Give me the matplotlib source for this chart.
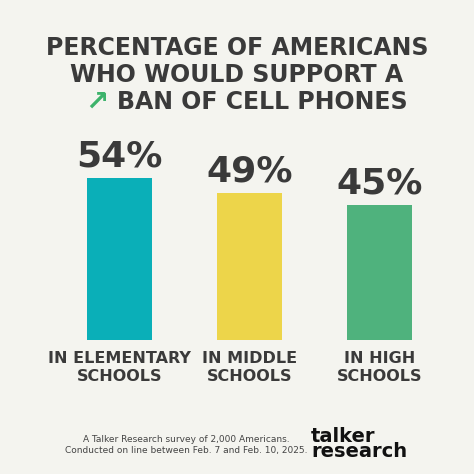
import matplotlib
matplotlib.use("Agg")
import matplotlib.pyplot as plt

categories = ["IN ELEMENTARY\nSCHOOLS", "IN MIDDLE\nSCHOOLS", "IN HIGH\nSCHOOLS"]
values = [54, 49, 45]
colors = ["#0AAFB8", "#EDD54A", "#4FB27D"]

W = H = 474
bg = "#F4F4EF"
dark = "#3A3A3A"
fig = plt.figure(figsize=(4.74, 4.74), dpi=100, facecolor=bg)
ax = fig.add_axes([54.5 / W, (H - 340) / H, 390 / W, 180 / H])
ax.set_facecolor(bg)
ax.bar(range(3), values, width=0.5, color=colors)
ax.set_xlim(-0.5, 2.5)
ax.set_ylim(0, 60)
ax.axis("off")
for i, v in enumerate(values):
    ax.annotate(f"{v}%", (i, v), xytext=(0, 3), textcoords="offset points",
                ha="center", va="bottom", fontsize=26, fontweight="bold", color=dark)
    ax.annotate(categories[i], (i, 0), xytext=(0, -8), textcoords="offset points",
                ha="center", va="top", fontsize=11.5, fontweight="bold", color=dark,
                linespacing=1.25)

fs = 17
fig.text(0.5, 1 - 48 / H, "PERCENTAGE OF AMERICANS", ha="center", va="center",
         fontsize=fs, fontweight="bold", color=dark)
fig.text(0.5, 1 - 75 / H, "WHO WOULD SUPPORT A", ha="center", va="center",
         fontsize=fs, fontweight="bold", color=dark)
fig.text(117 / W, 1 - 102 / H, "BAN OF CELL PHONES", ha="left", va="center",
         fontsize=fs, fontweight="bold", color=dark)
fig.text(97 / W, 1 - 102 / H, "↗", ha="center", va="center",
         fontsize=fs + 3, fontweight="bold", color="#3DB36B")

fig.text(186 / W, 1 - 445 / H,
         "A Talker Research survey of 2,000 Americans.\nConducted on line between Feb. 7 and Feb. 10, 2025.",
         ha="center", va="center", fontsize=6.5, color="#444444", linespacing=1.3)
fig.text(311 / W, 1 - 444 / H, "talker\nresearch", ha="left", va="center",
         fontsize=14, fontweight="heavy", color="#111111", linespacing=0.75)
fig.savefig("out.png", dpi=100, facecolor=bg)
